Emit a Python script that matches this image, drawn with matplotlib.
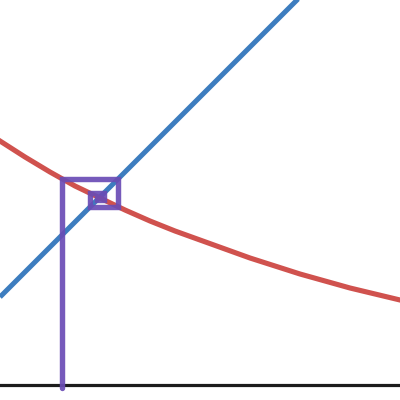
import numpy as np
import matplotlib
matplotlib.use('Agg')
import matplotlib.pyplot as plt

# red curve
curve_x = [0, 25, 50, 75, 100, 125, 150, 175, 200, 225, 250, 275, 300, 325, 350, 375, 400]
curve_y = [244, 228, 213, 199, 187, 175, 164, 154, 145, 136, 127, 119, 111, 104, 97, 91, 85]

# blue diagonal (y = x shifted)
diag_x = [0, 400]
diag_y = [88, 488]

# cobweb path
web_x = [62, 62, 118, 118, 90, 90, 104, 104, 97, 97, 101, 101, 99]
web_y = [-3, 206, 206, 178, 178, 192, 192, 185, 185, 188, 188, 186.5, 186.5]

fig = plt.figure(figsize=(4, 4), dpi=100)
ax = fig.add_axes([0, 0, 1, 1])

ax.axhline(0, color='#1c1c1c', lw=2.3, zorder=1)
ax.plot(diag_x, diag_y, color='#3d7dbf', lw=3.6, solid_capstyle='butt', zorder=2)
ax.plot(curve_x, curve_y, color='#d0524e', lw=3.7, zorder=3)
ax.plot(web_x, web_y, color='#6a4cb5', lw=3.9, alpha=0.92,
        solid_joinstyle='miter', solid_capstyle='round', zorder=4)

ax.set_xlim(0, 400)
ax.set_ylim(-15, 385)
ax.axis('off')

fig.savefig('out.png', dpi=100)
